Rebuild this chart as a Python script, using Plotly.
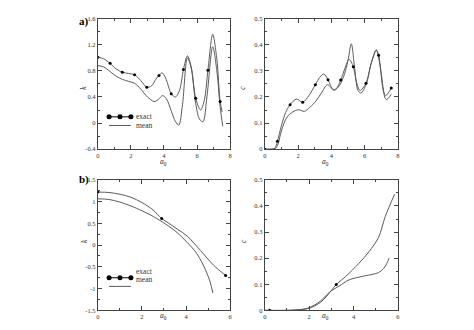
import plotly.graph_objects as go

# ---- panel a): k and c versus a0 -------------------------------------------
a_top_k_exact = [0, 0.35, 0.74, 1.1, 1.48, 1.85, 2.22, 2.6, 2.96, 3.25, 3.5, 3.7, 3.88,
                 4.1, 4.44, 4.7, 4.95, 5.18, 5.42, 5.65, 5.92, 6.22, 6.45, 6.66, 6.95,
                 7.2, 7.4, 7.52]
k_top_exact = [1.01, 0.985, 0.915, 0.83, 0.78, 0.76, 0.74, 0.65, 0.55, 0.57, 0.67, 0.73,
               0.77, 0.69, 0.45, 0.40, 0.51, 0.82, 1.03, 0.86, 0.38, 0.20, 0.36, 0.81,
               1.36, 0.98, 0.33, 0.17]
a_top_k_mean = [0, 0.35, 0.74, 1.1, 1.48, 1.85, 2.22, 2.6, 3.0, 3.4, 3.65, 3.92, 4.15,
                4.45, 4.7, 4.9, 5.12, 5.42, 5.65, 5.92, 6.15, 6.36, 6.6, 6.95, 7.2, 7.4,
                7.56]
k_top_mean = [0.88, 0.86, 0.79, 0.72, 0.67, 0.64, 0.61, 0.52, 0.40, 0.33, 0.36, 0.42,
              0.37, 0.18, 0.02, -0.03, 0.28, 1.0, 0.84, 0.30, 0.06, 0.02, 0.40, 1.17,
              0.80, 0.25, -0.05]
a_top_k_marks = [0, 0.74, 1.48, 2.22, 2.96, 3.7, 4.44, 5.18, 5.92, 6.66, 7.4]

a_top_c_exact = [0, 0.4, 0.6, 0.76, 1.0, 1.25, 1.52, 1.9, 2.28, 2.65, 3.04, 3.3, 3.55,
                 3.8, 4.1, 4.3, 4.56, 4.82, 5.06, 5.32, 5.5, 5.72, 6.08, 6.4, 6.7, 6.84,
                 7.0, 7.25, 7.6]
c_top_exact = [0, 0, 0.003, 0.03, 0.09, 0.14, 0.17, 0.192, 0.18, 0.205, 0.247, 0.275,
               0.288, 0.266, 0.228, 0.232, 0.265, 0.31, 0.344, 0.316, 0.26, 0.225, 0.253,
               0.33, 0.38, 0.36, 0.29, 0.205, 0.234]
a_top_c_mean = [0, 0.4, 0.65, 0.8, 1.0, 1.37, 1.98, 2.38, 2.7, 3.08, 3.4, 3.77, 4.17, 4.5,
                4.8, 5.0, 5.2, 5.4, 5.6, 5.78, 6.1, 6.4, 6.7, 6.9, 7.1, 7.3, 7.6]
c_top_mean = [0, 0, 0.003, 0.02, 0.07, 0.126, 0.151, 0.145, 0.16, 0.185, 0.215, 0.247,
              0.226, 0.245, 0.29, 0.34, 0.404, 0.31, 0.225, 0.215, 0.25, 0.33, 0.38,
              0.33, 0.23, 0.19, 0.21]
a_top_c_marks = [0, 0.76, 1.52, 2.28, 3.04, 3.8, 4.56, 5.32, 6.08, 6.84, 7.6]

# ---- panel b) ---------------------------------------------------------------
a_bot_k_exact = [0, 0.5, 1.0, 1.5, 2.0, 2.5, 2.9, 3.2, 3.6, 4.05, 4.65, 5.25, 5.8]
k_bot_exact = [1.22, 1.21, 1.17, 1.1, 0.98, 0.81, 0.61, 0.51, 0.37, 0.21, -0.12, -0.46, -0.70]
a_bot_k_mean = [0, 0.5, 1.0, 1.5, 2.0, 2.4, 2.92, 3.5, 4.05, 4.5, 4.89, 5.1, 5.22]
k_bot_mean = [1.065, 1.05, 0.99, 0.9, 0.79, 0.69, 0.535, 0.33, 0.065, -0.2, -0.575, -0.85, -1.1]
a_bot_k_marks = [0, 2.9, 5.8]

a_bot_c_exact = [0, 0.22, 1.0, 1.5, 2.0, 2.5, 2.8, 3.22, 3.65, 4.24, 4.69, 5.13, 5.43, 5.85]
c_bot_exact = [0, 0, 0.0, 0.002, 0.008, 0.03, 0.055, 0.099, 0.13, 0.18, 0.224, 0.28, 0.36, 0.445]
a_bot_c_mean = [0, 1.0, 1.5, 2.0, 2.5, 2.8, 3.0, 3.35, 3.8, 4.39, 5.13, 5.36, 5.5, 5.6]
c_bot_mean = [0, 0, 0.002, 0.01, 0.035, 0.06, 0.075, 0.093, 0.117, 0.13, 0.145, 0.161, 0.18, 0.2]
a_bot_c_marks = [0.22, 3.22]

# ---- tick labels -------------------------------------------------------------
x8_vals = [0, 2, 4, 6, 8]
x8_text = ["0", "2", "4", "6", "8"]
x6_vals = [0, 2, 4, 6]
x6_text = ["0", "2", "4", "6"]
k_top_vals = [-0.4, 0, 0.4, 0.8, 1.2, 1.6]
k_top_text = ["-0.4", "0", "0.4", "0.8", "1.2", "1.6"]
c_vals = [0, 0.1, 0.2, 0.3, 0.4, 0.5]
c_text = ["0", "0.1", "0.2", "0.3", "0.4", "0.5"]
k_bot_vals = [-1.5, -1, -0.5, 0, 0.5, 1, 1.5]
k_bot_text = ["-1.5", "-1", "-0.5", "0", "0.5", "1", "1.5"]

W, H = 474, 330
LINE = "#5a5a5a"
AXIS = "#444444"
FONT = "Liberation Serif"
TICKFONT = dict(family=FONT, size=6.5, color="#333333")


def px(x):
    return x / W


def py(y):
    return 1 - y / H


fig = go.Figure()

panels = [
    # (axis suffix, exact a, exact y, mean a, mean y, marker a)
    ("", a_top_k_exact, k_top_exact, a_top_k_mean, k_top_mean, a_top_k_marks),
    ("2", a_top_c_exact, c_top_exact, a_top_c_mean, c_top_mean, a_top_c_marks),
    ("3", a_bot_k_exact, k_bot_exact, a_bot_k_mean, k_bot_mean, a_bot_k_marks),
    ("4", a_bot_c_exact, c_bot_exact, a_bot_c_mean, c_bot_mean, a_bot_c_marks),
]

for sfx, ax_e, ye, ax_m, ym, marks in panels:
    xa, ya = "x" + sfx, "y" + sfx
    fig.add_trace(go.Scatter(x=ax_m, y=ym, mode="lines", xaxis=xa, yaxis=ya,
                             line=dict(color=LINE, width=1, shape="spline", smoothing=0.9),
                             showlegend=False, hoverinfo="skip"))
    fig.add_trace(go.Scatter(x=ax_e, y=ye, mode="lines", xaxis=xa, yaxis=ya,
                             line=dict(color=LINE, width=1, shape="spline", smoothing=0.9),
                             showlegend=False, hoverinfo="skip"))
    lookup = dict(zip(ax_e, ye))
    fig.add_trace(go.Scatter(x=marks, y=[lookup[m] for m in marks], mode="markers",
                             xaxis=xa, yaxis=ya,
                             marker=dict(color="black", size=3),
                             showlegend=False, hoverinfo="skip"))

dom_left = [px(96.7), px(230)]
dom_right = [px(265), px(399.3)]
dom_top = [py(148.3), py(15)]
dom_bot = [py(313), py(179.7)]


def xaxis(domain, rng, vals, text, anchor):
    return dict(domain=domain, range=rng, anchor=anchor, tickmode="array",
                tickvals=vals, ticktext=text, ticks="inside", ticklen=4,
                tickcolor=AXIS, showline=True, linecolor=AXIS, linewidth=1,
                mirror="allticks", showgrid=False, zeroline=False,
                tickfont=TICKFONT, ticklabelstandoff=0,
                minor=dict(ticks="inside", ticklen=2, dtick=1, tick0=0, tickcolor=AXIS))


def yaxis(domain, rng, vals, text, anchor, minor):
    return dict(domain=domain, range=rng, anchor=anchor, tickmode="array",
                tickvals=vals, ticktext=text, ticks="inside", ticklen=4,
                tickcolor=AXIS, showline=True, linecolor=AXIS, linewidth=1,
                mirror="allticks", showgrid=False, zeroline=False,
                tickfont=TICKFONT,
                minor=dict(ticks="inside", ticklen=2, dtick=minor, tick0=0, tickcolor=AXIS))


fig.update_layout(
    width=W, height=H, margin=dict(l=0, r=0, t=0, b=0),
    paper_bgcolor="white", plot_bgcolor="white", showlegend=False,
    xaxis=xaxis(dom_left, [0, 8], x8_vals, x8_text, "y"),
    yaxis=yaxis(dom_top, [-0.4, 1.6], k_top_vals, k_top_text, "x", 0.2),
    xaxis2=xaxis(dom_right, [0, 8], x8_vals, x8_text, "y2"),
    yaxis2=yaxis(dom_top, [0, 0.5], c_vals, c_text, "x2", 0.05),
    xaxis3=xaxis(dom_left, [0, 6], x6_vals, x6_text, "y3"),
    yaxis3=yaxis(dom_bot, [-1.5, 1.5], k_bot_vals, k_bot_text, "x3", 0.25),
    xaxis4=xaxis(dom_right, [0, 6], x6_vals, x6_text, "y4"),
    yaxis4=yaxis(dom_bot, [0, 0.5], c_vals, c_text, "x4", 0.05),
)

ann = []
shapes = []
lab_font = dict(family=FONT, size=7.5, color="#222222")

# axis titles
for xc, top in [(163.3, True), (332.1, True), (163.3, False), (332.1, False)]:
    ann.append(dict(x=px(xc), y=py(161 if top else 326), xref="paper", yref="paper",
                    text="<i>a</i><sub>0</sub>", showarrow=False, font=lab_font))
for xc, yc, name in [(76, 81.6, "k"), (243, 81.6, "c"), (76, 246.3, "k"), (243, 246.3, "c")]:
    ann.append(dict(x=px(xc), y=py(yc), xref="paper", yref="paper", text=f"<i>{name}</i>",
                    textangle=-90, showarrow=False, font=lab_font))

# panel letters
ann.append(dict(x=px(75.5), y=py(9), xref="paper", yref="paper", text="<b>a)</b>",
                showarrow=False, font=dict(family=FONT, size=11, color="black")))
ann.append(dict(x=px(75.5), y=py(179), xref="paper", yref="paper", text="<b>b)</b>",
                showarrow=False, font=dict(family=FONT, size=11, color="black")))

# hand-drawn legend boxes inside the k panels
for ly in (115.3, 279.7):
    shapes.append(dict(type="line", xref="paper", yref="paper", x0=px(108), x1=px(130),
                       y0=py(ly), y1=py(ly), line=dict(color="black", width=1)))
    for mx in (108, 119, 130):
        shapes.append(dict(type="circle", xref="paper", yref="paper",
                           xsizemode="pixel", ysizemode="pixel",
                           xanchor=px(mx), yanchor=py(ly), x0=-2.5, x1=2.5, y0=-2.5, y1=2.5,
                           fillcolor="black", line=dict(color="black", width=0)))
    shapes.append(dict(type="line", xref="paper", yref="paper", x0=px(108), x1=px(130),
                       y0=py(ly + 8.8), y1=py(ly + 8.8), line=dict(color=LINE, width=1)))
    ann.append(dict(x=px(133), y=py(ly), xref="paper", yref="paper", text="exact",
                    xanchor="left", showarrow=False,
                    font=dict(family=FONT, size=7.5, color="#333333")))
    ann.append(dict(x=px(133), y=py(ly + 8.8), xref="paper", yref="paper", text="mean",
                    xanchor="left", showarrow=False,
                    font=dict(family=FONT, size=7.5, color="#333333")))

fig.update_layout(annotations=ann, shapes=shapes)
fig.write_html("out.html")
